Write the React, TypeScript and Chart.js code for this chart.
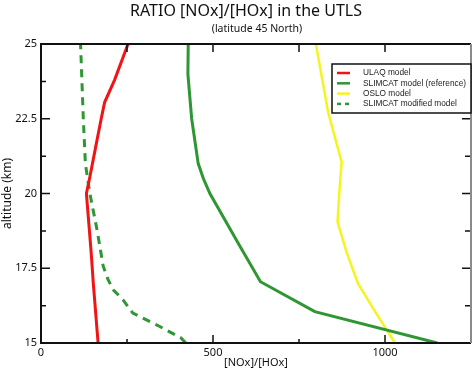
import React, { useEffect, useRef } from 'react';
import { Chart, registerables } from 'chart.js';

Chart.register(...registerables);

const titleText = 'RATIO [NOx]/[HOx] in the UTLS';
const subtitleText = '(latitude 45 North)';
const xAxisTitle = '[NOx]/[HOx]';
const yAxisTitle = 'altitude (km)';

const seriesLabels = ['ULAQ model', 'SLIMCAT model (reference)', 'OSLO model', 'SLIMCAT modified model'];
const seriesColors = ['#f01414', '#2e9632', '#f6f41e', '#2e9632'];

// altitude (km) / ratio values
const ulaqAlt = [15, 16, 17, 18, 19, 20, 20.55, 21.5, 22.5, 23.05, 23.8, 25];
const ulaqVal = [166, 159, 152, 146, 139, 132, 142, 158, 175, 185, 214, 253];

const slimcatAlt = [15, 16.05, 17.05, 18.3, 20, 20.5, 21, 22.5, 24, 25];
const slimcatVal = [1152, 796, 638, 575, 491, 472, 457, 438, 427, 428];

const osloAlt = [15, 16, 17, 18.05, 19.05, 20, 21.05, 22.7, 25];
const osloVal = [1029, 974, 921, 888, 862, 867, 874, 835, 799];

const modAlt = [15, 15.17, 15.56, 16, 16.45, 16.78, 17.12, 17.56, 18.78, 20, 21, 22.5, 25];
const modVal = [421, 407, 344, 267, 238, 210, 195, 181, 163, 142, 129, 123, 115];

const xMin = 0;
const xMax = 1250;
const xStep = 250;
const xLabelStep = 500;
const yMin = 15;
const yMax = 25;
const yStep = 1.25;
const yLabelStep = 2.5;

const FONT = "'Noto Sans', 'Liberation Sans', sans-serif";
const LEGEND_FONT = "'Liberation Sans', Arial, sans-serif";

const toPoints = (alt: number[], val: number[]) => alt.map((a, i) => ({ x: val[i], y: a }));

const framePlugin = {
  id: 'frameTicks',
  afterDatasetsDraw(chart: any) {
    const { ctx, chartArea } = chart;
    const { left, right, top, bottom } = chartArea;
    const xs = chart.scales.x;
    const ys = chart.scales.y;
    ctx.save();
    ctx.lineCap = 'butt';
    // ticks
    ctx.strokeStyle = '#111';
    ctx.lineWidth = 1.5;
    xs.ticks.forEach((t: any) => {
      const v = t.value;
      if (v <= xMin || v >= xMax) return;
      const px = xs.getPixelForValue(v);
      const major = v % xLabelStep === 0;
      ctx.beginPath();
      ctx.moveTo(px, bottom);
      ctx.lineTo(px, bottom - (major ? 8 : 4));
      ctx.moveTo(px, top);
      ctx.lineTo(px, top + 8);
      ctx.stroke();
    });
    ys.ticks.forEach((t: any) => {
      const v = t.value;
      if (v <= yMin || v >= yMax) return;
      const py = ys.getPixelForValue(v);
      const major = Math.abs(v % yLabelStep) < 1e-9;
      ctx.beginPath();
      ctx.moveTo(left, py);
      ctx.lineTo(left + (major ? 9 : 5), py);
      ctx.moveTo(right, py);
      ctx.lineTo(right - (major ? 9 : 6), py);
      ctx.stroke();
    });
    // frame
    ctx.lineWidth = 2;
    ctx.strokeStyle = '#111';
    ctx.beginPath();
    ctx.moveTo(right, top);
    ctx.lineTo(left, top);
    ctx.lineTo(left, bottom);
    ctx.lineTo(right, bottom);
    ctx.stroke();
    ctx.strokeStyle = '#8a8a8a';
    ctx.beginPath();
    ctx.moveTo(right, top);
    ctx.lineTo(right, bottom);
    ctx.stroke();

    // legend box
    const bx = 332;
    const by = chartArea.top + 20;
    const bw = right - bx;
    const bh = 49;
    ctx.fillStyle = '#fff';
    ctx.fillRect(bx, by, bw, bh);
    ctx.lineWidth = 1.5;
    ctx.strokeStyle = '#111';
    ctx.strokeRect(bx, by, bw, bh);
    ctx.font = `8.3px ${LEGEND_FONT}`;
    ctx.textBaseline = 'middle';
    ctx.textAlign = 'left';
    chart.data.datasets.forEach((ds: any, i: number) => {
      const yy = by + 9 + i * 10.3;
      ctx.strokeStyle = ds.borderColor;
      ctx.lineWidth = 2.5;
      ctx.setLineDash(ds.borderDash && ds.borderDash.length ? [4, 4] : []);
      ctx.beginPath();
      ctx.moveTo(bx + 5, yy);
      ctx.lineTo(bx + 18, yy);
      ctx.stroke();
      ctx.setLineDash([]);
      ctx.fillStyle = '#222';
      ctx.fillText(ds.label, bx + 31, yy);
    });

    // titles
    const cx = (left + right) / 2;
    ctx.textAlign = 'center';
    ctx.fillStyle = '#111';
    ctx.font = `16px ${FONT}`;
    ctx.fillText(titleText, cx - 10, 11);
    ctx.font = `10.5px ${FONT}`;
    ctx.fillText(subtitleText, cx + 1, 29);
    ctx.restore();
  },
};

export default function App() {
  const ref = useRef<HTMLCanvasElement | null>(null);
  useEffect(() => {
    if (!ref.current) return;
    const mk = (i: number, alt: number[], val: number[], width: number, dash: number[] = []) => ({
      label: seriesLabels[i],
      data: toPoints(alt, val),
      borderColor: seriesColors[i],
      backgroundColor: seriesColors[i],
      borderWidth: width,
      borderDash: dash,
      pointRadius: 0,
      tension: 0,
      fill: false,
    });
    const chart = new Chart(ref.current, {
      type: 'line',
      data: {
        datasets: [
          mk(0, ulaqAlt, ulaqVal, 3),
          mk(1, slimcatAlt, slimcatVal, 3),
          mk(2, osloAlt, osloVal, 2.5),
          mk(3, modAlt, modVal, 3, [8, 6]),
        ],
      },
      options: {
        responsive: false,
        animation: false,
        layout: { padding: { top: 44, right: 2, left: 0, bottom: 0 } },
        plugins: {
          legend: { display: false },
          title: { display: false },
          tooltip: { enabled: false },
        },
        scales: {
          x: {
            type: 'linear',
            min: xMin,
            max: xMax,
            afterFit: (s: any) => { s.height = 27; },
            border: { display: false },
            grid: { display: false, drawTicks: false },
            ticks: {
              stepSize: xStep,
              autoSkip: false,
              maxRotation: 0,
              padding: 3,
              color: '#111',
              font: { family: FONT, size: 11 },
              callback: (v: any) => (v % xLabelStep === 0 ? String(v) : ''),
            },
            title: {
              display: true,
              text: xAxisTitle,
              color: '#111',
              font: { family: FONT, size: 11 },
              padding: { top: 0, bottom: 1 },
            },
          },
          y: {
            type: 'linear',
            min: yMin,
            max: yMax,
            afterFit: (s: any) => { s.width = 41; },
            border: { display: false },
            grid: { display: false, drawTicks: false },
            ticks: {
              stepSize: yStep,
              autoSkip: false,
              padding: 4,
              color: '#111',
              font: { family: FONT, size: 11 },
              callback: (v: any) => (Math.abs(v % yLabelStep) < 1e-9 ? String(v) : ''),
            },
            title: {
              display: true,
              text: yAxisTitle,
              color: '#111',
              font: { family: FONT, size: 12 },
              padding: { top: 0, bottom: 0 },
            },
          },
        },
      },
      plugins: [framePlugin],
    });
    return () => chart.destroy();
  }, []);
  return (
    <div style={{ position: 'absolute', left: 0, top: 0, width: 474, height: 370 }}>
      <canvas ref={ref} width={474} height={370} style={{ display: 'block' }} />
    </div>
  );
}
